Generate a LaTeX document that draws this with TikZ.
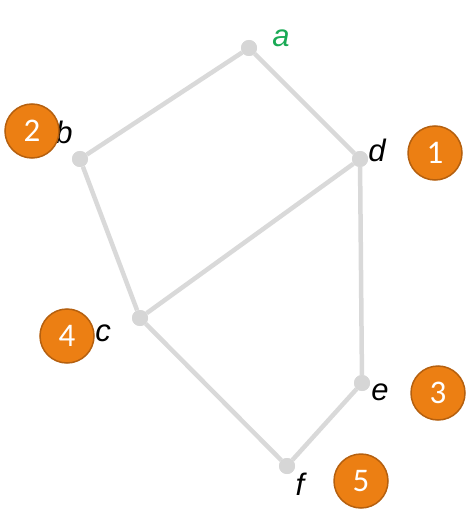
\documentclass[tikz,border=0pt]{standalone}
\usepackage{fontspec}
\setmainfont{Liberation Sans}
\newfontfamily\numfont{Carlito}
\definecolor{edgegray}{HTML}{D9D9D9}
\definecolor{vgray}{HTML}{D6D6D6}
\definecolor{orfill}{HTML}{EC7F13}
\definecolor{ordraw}{HTML}{B5600F}
\definecolor{agreen}{HTML}{1AAA55}
\begin{document}
\begin{tikzpicture}[x=1pt,y=-1pt,
  vtx/.style={circle,fill=vgray,inner sep=0pt,minimum size=16pt},
  edge/.style={draw=edgegray,line width=4.5pt},
  lbl/.style={font=\fontsize{31}{31}\selectfont\itshape,inner sep=0pt},
  badge/.style={circle,fill=orfill,draw=ordraw,line width=1.5pt,minimum size=54pt,inner sep=0pt,text=white,font=\numfont\fontsize{33}{33}\selectfont}]
\useasboundingbox (0,0) rectangle (474,529);
\node[vtx] (a) at (249,48) {};
\node[vtx] (b) at (80,159) {};
\node[vtx] (d) at (360,159) {};
\node[vtx] (c) at (140,318) {};
\node[vtx] (e) at (362,383) {};
\node[vtx] (f) at (287,466) {};
\draw[edge] (a) -- (b);
\draw[edge] (a) -- (d);
\draw[edge] (b) -- (c);
\draw[edge] (c) -- (d);
\draw[edge] (d) -- (e);
\draw[edge] (c) -- (f);
\draw[edge] (e) -- (f);
\node[vtx] at (a) {};
\node[vtx] at (b) {};
\node[vtx] at (d) {};
\node[vtx] at (c) {};
\node[vtx] at (e) {};
\node[vtx] at (f) {};
\node[lbl,text=agreen] (la) at (281,38) {a};
\node[lbl] (lb) at (64,132) {b};
\node[lbl] (ld) at (377,150) {d};
\node[lbl] (lc) at (103,333) {c};
\node[lbl] (le) at (380,392) {e};
\node[lbl] (lf) at (300,484) {f};
\node[badge] (n2) at (32,131) {2};
\node[badge] (n1) at (435,153) {1};
\node[badge] (n4) at (67,336) {4};
\node[badge] (n3) at (438,393) {3};
\node[badge] (n5) at (361,481) {5};
\end{tikzpicture}
\end{document}
